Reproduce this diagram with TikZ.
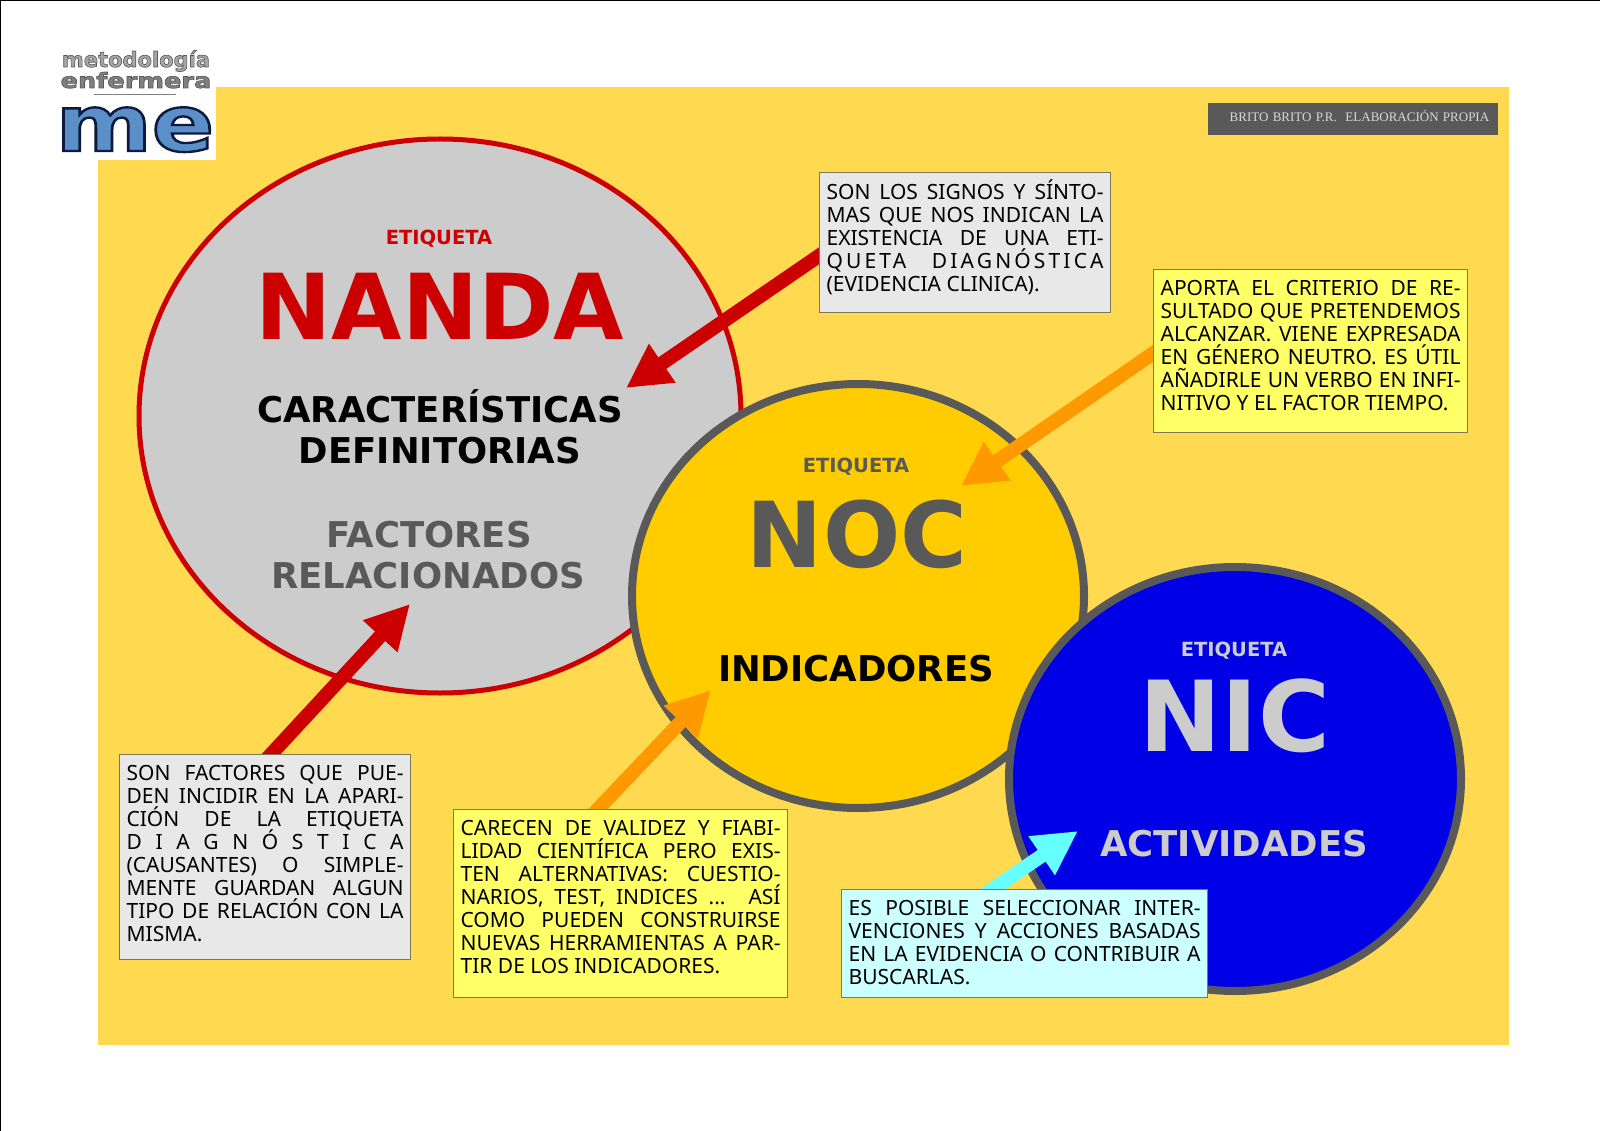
\documentclass[tikz,border=0pt]{standalone}
\usepackage{fontspec}
\setmainfont{Noto Sans}
\newfontfamily\creditfont{Liberation Serif}
\newfontfamily\headfont{DejaVu Sans Bold}
\newfontfamily\logofont[FakeBold=3]{DejaVu Sans Bold}
\usetikzlibrary{arrows.meta,shapes.geometric}
\definecolor{sand}{RGB}{255,217,79}
\definecolor{redline}{RGB}{204,0,0}
\definecolor{slate}{RGB}{89,89,89}
\definecolor{noc}{RGB}{255,204,0}
\definecolor{nic}{RGB}{0,0,230}
\definecolor{silver}{RGB}{204,204,204}
\definecolor{boxline}{RGB}{125,120,90}
\definecolor{amber}{RGB}{255,153,0}
\definecolor{aqua}{RGB}{102,255,255}
\definecolor{paleGray}{RGB}{232,232,232}
\definecolor{paleYellow}{RGB}{255,255,102}
\definecolor{paleAqua}{RGB}{204,255,255}
\definecolor{logoblue}{RGB}{91,143,199}
\pgfdeclarelayer{back}
\pgfdeclarelayer{mid}
\pgfsetlayers{back,mid,main}
\newlength{\boxw}
\newcommand{\jl}[1]{\makebox[\boxw][s]{#1}\\}
\newcommand{\boxtext}[4][4pt]{\setlength{\boxw}{#2}\parbox[c][#3][t]{#2}{\vspace*{#1}\lineskiplimit=-20pt\fontsize{21}{23}\selectfont #4}}
\begin{document}
\begin{tikzpicture}[x=1pt,y=-1pt,
  blob/.style={ellipse, draw, inner sep=0pt},
  labS/.style={anchor=base, inner sep=0pt, font=\headfont\fontsize{19.5}{20}\selectfont},
  labM/.style={anchor=base, inner sep=0pt, font=\headfont\fontsize{35.5}{36}\selectfont},
  labL/.style={anchor=base, inner sep=0pt, font=\headfont\fontsize{91}{91}\selectfont},
  note/.style={draw=boxline, line width=1.2pt, anchor=north west, inner sep=7pt, text=black},
  big/.style={line width=14pt, -{Triangle[length=44pt,width=44pt]}}
]
\useasboundingbox (0,0) rectangle (1600,1131);
\begin{pgfonlayer}{back}
\draw[black, line width=2pt] (0,1131)--(0,0)--(1600,0);
\fill[sand] (98,87) rectangle (1509,1045);
\fill[white] (55,45) rectangle (216,160);
\node[blob, draw=redline, fill=silver, line width=5pt, minimum width=602pt, minimum height=554pt] (nanda) at (440,416) {};
\node[blob, draw=slate, fill=noc, line width=8pt, minimum width=452pt, minimum height=424pt] (noc) at (858,596) {};
\node[blob, draw=slate, fill=nic, line width=8pt, minimum width=452pt, minimum height=424pt] (nic) at (1235,779) {};
\node[labS, text=redline] (etqNanda) at (439,245) {ETIQUETA};
\node[labL, text=redline] (tNanda) at (440,339) {NANDA};
\node[labM] (tCarac) at (440,422) {CARACTERÍSTICAS};
\node[labM] (tDefin) at (440,463) {DEFINITORIAS};
\node[labM, text=slate] (tFact) at (429,547) {FACTORES};
\node[labM, text=slate] (tRelac) at (428,588) {RELACIONADOS};
\node[labS, text=slate] (etqNoc) at (856,472) {ETIQUETA};
\node[labL, text=slate] (tNoc) at (857,567) {NOC};
\node[labM] (tIndic) at (856,681) {INDICADORES};
\node[labS, text=silver] (etqNic) at (1234,656) {ETIQUETA};
\node[labL, text=silver, font=\headfont\fontsize{98}{98}\selectfont] (tNic) at (1235,751) {NIC};
\node[labM, text=silver] (tActiv) at (1234,856) {ACTIVIDADES};
\end{pgfonlayer}
% logo
\node[anchor=base, inner sep=0pt] (logoA) at (136,67) {\color{gray!70}\special{pdf:code 0.35 0.35 0.35 RG}\logofont\fontsize{21}{21}\selectfont metodología};
\node[anchor=base, inner sep=0pt] (logoB) at (136,88) {\scalebox{1.22}[1]{\color{gray}\special{pdf:code 0.35 0.35 0.35 RG}\logofont\fontsize{21}{21}\selectfont enfermera}};
\draw[gray, line width=1pt] (94,95) -- (176,95);
\node[anchor=base, inner sep=0pt] (logoC) at (135,151) {\scalebox{1.18}[1]{\color{logoblue}\special{pdf:code 0.05 0.1 0.25 RG}\logofont\fontsize{78}{78}\selectfont me}};
% notas
\node[note, fill=paleGray] (nSignos) at (819,172) {\boxtext[0pt]{277pt}{126pt}{
\jl{SON LOS SIGNOS Y SÍNTO-}\jl{MAS QUE NOS INDICAN LA}\jl{EXISTENCIA DE UNA ETI-}\jl{\addfontfeature{LetterSpace=15}QUETA\hfill DIAGNÓSTICA}(EVIDENCIA CLINICA).}};
\node[note, fill=paleYellow] (nCrit) at (1153,269) {\boxtext{300pt}{149pt}{
\jl{APORTA EL CRITERIO DE RE-}\jl{SULTADO QUE PRETENDEMOS}\jl{ALCANZAR. VIENE EXPRESADA}\jl{EN GÉNERO NEUTRO. ES ÚTIL}\jl{AÑADIRLE UN VERBO EN INFI-}NITIVO Y EL FACTOR TIEMPO.}};
\node[note, fill=paleGray] (nFact) at (119,754) {\boxtext{277pt}{191pt}{
\jl{SON FACTORES QUE PUE-}\jl{DEN INCIDIR EN LA APARI-}\jl{CIÓN DE LA ETIQUETA}\jl{D I A G N Ó S T I C A}\jl{(CAUSANTES) O SIMPLE-}\jl{MENTE GUARDAN ALGUN}\jl{TIPO DE RELACIÓN CON LA}MISMA.}};
\node[note, fill=paleYellow] (nValid) at (453,809) {\boxtext{320pt}{174pt}{
\jl{CARECEN DE VALIDEZ Y FIABI-}\jl{LIDAD CIENTÍFICA PERO EXIS-}\jl{TEN ALTERNATIVAS: CUESTIO-}\jl{NARIOS, TEST, INDICES ... ASÍ}\jl{COMO PUEDEN CONSTRUIRSE}\jl{NUEVAS HERRAMIENTAS A PAR-}TIR DE LOS INDICADORES.}};
\node[note, fill=paleAqua] (nInter) at (841,889) {\boxtext{352pt}{94pt}{
\jl{ES POSIBLE SELECCIONAR INTER-}\jl{VENCIONES Y ACCIONES BASADAS}\jl{EN LA EVIDENCIA O CONTRIBUIR A}BUSCARLAS.}};
\node[anchor=north west, fill=slate, minimum width=290pt, minimum height=32pt, inner sep=0pt, text=black!15, font=\creditfont\fontsize{13}{13}\selectfont, align=right, text width=272pt] (credit) at (1208,103) {\raisebox{6pt}{BRITO BRITO P.R.\ \ ELABORACIÓN PROPIA}};
% flechas
\coordinate (tipA) at (626,388);
\coordinate (tipB) at (961,486);
\coordinate (tipC) at (410,604);
\coordinate (tipD) at (711,690);
\coordinate (tipE) at (1078,831);
\begin{pgfonlayer}{mid}
\draw[big, redline] ([xshift=12pt,yshift=-5pt]nSignos.west) -- (tipA);
\draw[big, amber] ([xshift=12pt,yshift=6pt]nCrit.west) -- (tipB);
\draw[big, redline] ([xshift=-4pt,yshift=-11pt]nFact.north) -- (tipC);
\draw[big, amber] ([xshift=-33pt,yshift=-11pt]nValid.north) -- (tipD);
\draw[big, aqua] ([xshift=-42pt,yshift=-7pt]nInter.north) -- (tipE);
\end{pgfonlayer}
\end{tikzpicture}
\end{document}
